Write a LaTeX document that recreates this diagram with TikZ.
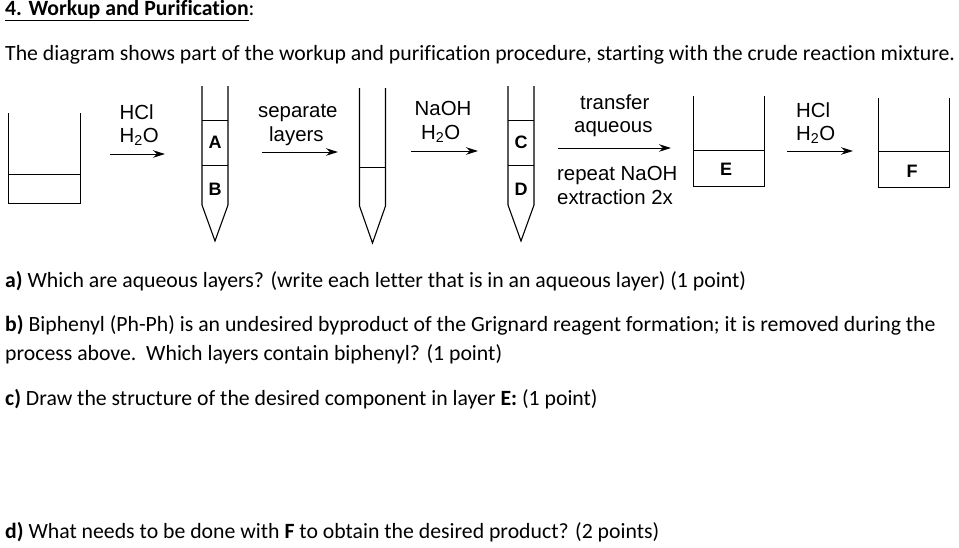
\documentclass[tikz,border=0pt]{standalone}
\usepackage{fontspec}
\usetikzlibrary{arrows.meta}
\setmainfont[Ligatures=NoCommon]{Carlito}
\newfontfamily\reagentfont{Liberation Sans}
\tikzset{
  vessel/.style={line width=1.1pt,line join=miter},
  layerline/.style={line width=1pt},
  reaction/.style={line width=1pt,-{Stealth[length=12pt,width=7.5pt]}},
  question/.style={anchor=base west,inner sep=0pt,font=\fontsize{21.75}{26}\selectfont},
  reagent/.style={anchor=base west,inner sep=0pt,font=\reagentfont\fontsize{20.4}{24}\selectfont},
  layerlabel/.style={inner sep=0pt,font=\reagentfont\bfseries\fontsize{18}{22}\selectfont}
}
\begin{document}
\begin{tikzpicture}[x=1pt,y=-1pt]
\useasboundingbox (0,0) rectangle (959,547);
\node[question] (title) at (5,15.5) {\textbf{\underline{4. Workup and Purification}}:};
\node[question] (intro) at (5,60.5) {The diagram shows part of the workup and purification procedure, starting with the crude reaction mixture.};
\draw[vessel] (8.5,113) -- (8.5,203.5) -- (80.5,203.5) -- (80.5,113);
\draw[layerline] (8.5,174) -- (80.5,174);
\node[reagent] (hclone) at (119.5,119) {HCl};
\node[reagent] (waterone) at (119.5,142) {H\textsubscript{2}O};
\coordinate (arrowonea) at (110,154);
\coordinate (arrowoneb) at (165,154);
\draw[reaction] (arrowonea) -- (arrowoneb);
\draw[vessel] (202,86) -- (202,205) -- (215,241) -- (228,205) -- (228,86);
\draw[layerline] (202,120.5) -- (228,120.5);
\draw[layerline] (202,165.5) -- (228,165.5);
\node[layerlabel] (layera) at (215,142) {A};
\node[layerlabel] (layerb) at (215,189) {B};
\node[reagent] (separate) at (258,117) {separate};
\node[reagent] (layers) at (269,141) {layers};
\coordinate (arrowtwoa) at (262,152);
\coordinate (arrowtwob) at (338,152);
\draw[reaction] (arrowtwoa) -- (arrowtwob);
\draw[vessel] (359.5,88) -- (359.5,206) -- (372.5,243) -- (385.5,206) -- (385.5,88);
\draw[layerline] (359.5,167.5) -- (385.5,167.5);
\node[reagent] (naoh) at (414.5,115) {NaOH};
\node[reagent] (watertwo) at (421,139) {H\textsubscript{2}O};
\coordinate (arrowthreea) at (411,151);
\coordinate (arrowthreeb) at (478,151);
\draw[reaction] (arrowthreea) -- (arrowthreeb);
\draw[vessel] (508,86) -- (508,205) -- (521,241) -- (534,205) -- (534,86);
\draw[layerline] (508,120.5) -- (534,120.5);
\draw[layerline] (508,165) -- (534,165);
\node[layerlabel] (layerc) at (521,142) {C};
\node[layerlabel] (layerd) at (521,189) {D};
\node[reagent] (transfer) at (580,109) {transfer};
\node[reagent] (aqueous) at (574,132) {aqueous};
\coordinate (arrowfoura) at (558,148);
\coordinate (arrowfourb) at (671,148);
\draw[reaction] (arrowfoura) -- (arrowfourb);
\node[reagent] (repeatnaoh) at (557,180) {repeat NaOH};
\node[reagent] (extraction) at (557,204) {extraction 2x};
\draw[vessel] (693.5,96) -- (693.5,186.5) -- (764.5,186.5) -- (764.5,96);
\draw[layerline] (693.5,150) -- (764.5,150);
\node[layerlabel] (layere) at (726,169) {E};
\node[reagent] (hcltwo) at (796,117) {HCl};
\node[reagent] (waterthree) at (796,140) {H\textsubscript{2}O};
\coordinate (arrowfivea) at (787,151);
\coordinate (arrowfiveb) at (853,151);
\draw[reaction] (arrowfivea) -- (arrowfiveb);
\draw[vessel] (878.5,98) -- (878.5,187.5) -- (949.5,187.5) -- (949.5,98);
\draw[layerline] (878.5,151.5) -- (949.5,151.5);
\node[layerlabel] (layerf) at (912,171) {F};
\node[question] (parta) at (5,287.5) {\textbf{a)} Which are aqueous layers? (write each letter that is in an aqueous layer) (1 point)};
\node[question] (partb) at (5,331.5) {\textbf{b)} Biphenyl (Ph-Ph) is an undesired byproduct of the Grignard reagent formation; it is removed during the};
\node[question] (partbtwo) at (5,360.5) {process above.\ \ Which layers contain biphenyl? (1 point)};
\node[question] (partc) at (5,405.5) {\textbf{c)} Draw the structure of the desired component in layer \textbf{E:} (1 point)};
\node[question] (partd) at (5,538) {\textbf{d)} What needs to be done with \textbf{F} to obtain the desired product? (2 points)};
\end{tikzpicture}
\end{document}
